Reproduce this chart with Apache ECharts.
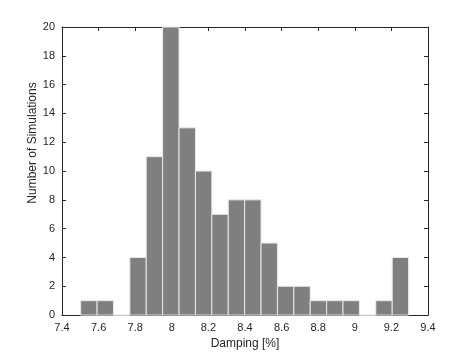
<!DOCTYPE html>
<html>
<head>
<meta charset="utf-8">
<script src="https://cdn.jsdelivr.net/npm/echarts@6/dist/echarts.min.js"></script>
<style>
  html, body { margin: 0; padding: 0; background: #fff; }
  #chart { width: 474px; height: 355px; }
</style>
</head>
<body>
<div id="chart"></div>
<script>
// histogram bins (damping %)
var binStart = 7.502;
var binWidth = 0.0896;
var counts = [1, 1, 0, 4, 11, 20, 13, 10, 7, 8, 8, 5, 2, 2, 1, 1, 1, 0, 1, 4];

var xTicks = { min: 7.4, max: 9.4, interval: 0.2 };
var yTicks = { min: 0, max: 20, interval: 2 };

var bins = counts.map(function (c, i) {
    var lo = binStart + i * binWidth;
    return [lo, lo + binWidth, c];
});

var axisCol = '#262626';
var font = 'Liberation Sans, Arial, sans-serif';

function frameAxis(pos, lim, showLabel) {
    return {
        type: 'value',
        position: pos,
        min: lim.min,
        max: lim.max,
        interval: lim.interval,
        splitLine: { show: false },
        axisLine: { show: true, onZero: false, lineStyle: { color: axisCol, width: 1 } },
        axisTick: { show: true, inside: true, length: 4, lineStyle: { color: axisCol } },
        axisLabel: { show: showLabel, color: axisCol, fontFamily: font, fontSize: 11, margin: 7 }
    }
}

var chart = echarts.init(document.getElementById('chart'));

var xMain = frameAxis('bottom', xTicks, true);
xMain.name = 'Damping [%]';
xMain.nameLocation = 'middle';
xMain.nameGap = 21;
xMain.nameTextStyle = { color: axisCol, fontFamily: font, fontSize: 12 };

chart.setOption({
    animation: false,
    backgroundColor: '#fff',
    grid: { left: 62, right: 46, top: 27, bottom: 39 },
    xAxis: [xMain, frameAxis('top', xTicks, false)],
    yAxis: [frameAxis('left', yTicks, true), frameAxis('right', yTicks, false)],
    graphic: [
        {
            type: 'text',
            x: 33,
            y: 143,
            rotation: Math.PI / 2,
            style: {
                text: 'Number of Simulations',
                fill: axisCol,
                font: '12px ' + font,
                align: 'center',
                verticalAlign: 'middle'
            }
        }
    ],
    series: [
        {
            type: 'custom',
            data: bins,
            encode: { x: [0, 1], y: 2 },
            renderItem: function (params, api) {
                var p0 = api.coord([api.value(0), api.value(2)]);
                var p1 = api.coord([api.value(1), 0]);
                return {
                    type: 'rect',
                    shape: { x: p0[0], y: p0[1], width: p1[0] - p0[0], height: p1[1] - p0[1] },
                    style: { fill: '#7f7f7f', stroke: '#e8e8e8', lineWidth: 1 }
                }
            }
        }
    ]
});
</script>
</body>
</html>
